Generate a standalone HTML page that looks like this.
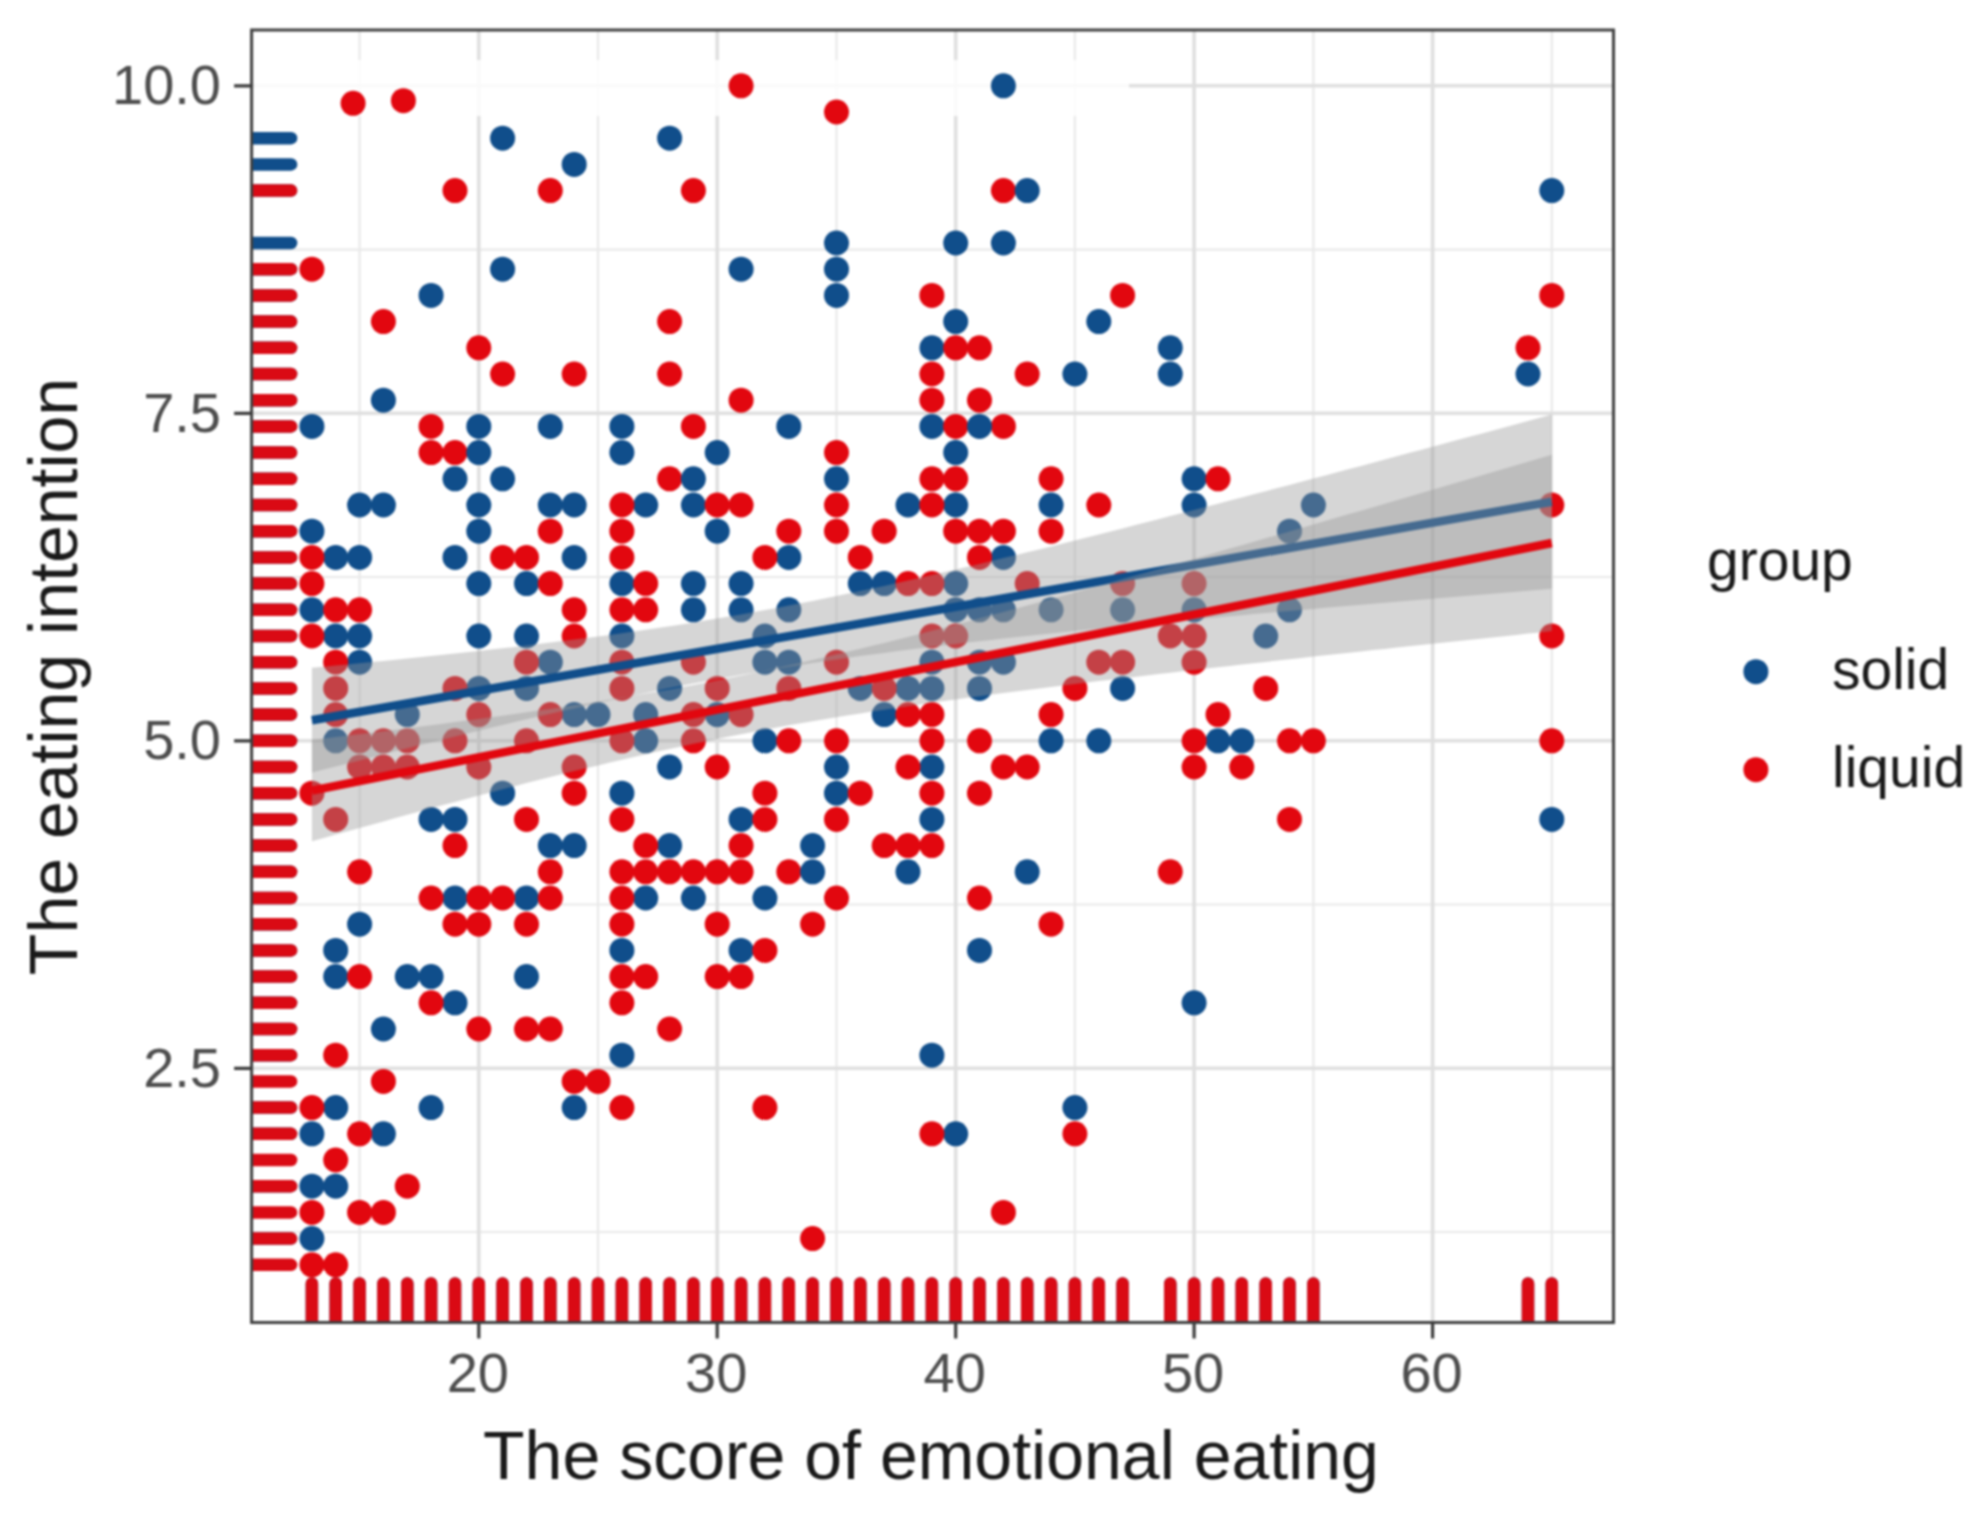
<!DOCTYPE html><html><head><meta charset="utf-8"><title>Scatter</title><style>html,body{margin:0;padding:0;background:#fff}svg{display:block;filter:blur(1.1px)}text{font-family:"Liberation Sans",Arial,sans-serif}</style></head><body>
<svg width="1979" height="1525" viewBox="0 0 1979 1525">
<rect width="1979" height="1525" fill="#fff"/>
<defs><clipPath id="cp"><rect x="251.6" y="30.0" width="1361.9" height="1292.5"/></clipPath></defs>
<g clip-path="url(#cp)">
<path d="M359.6 30.0V1322.5M598.0 30.0V1322.5M836.5 30.0V1322.5M1074.9 30.0V1322.5M1313.4 30.0V1322.5M1551.8 30.0V1322.5M251.6 1232.0H1613.5M251.6 904.5H1613.5M251.6 577.0H1613.5M251.6 249.6H1613.5" stroke="#e9e9e9" stroke-width="2.2" fill="none"/>
<path d="M478.8 30.0V1322.5M717.2 30.0V1322.5M955.7 30.0V1322.5M1194.1 30.0V1322.5M1432.6 30.0V1322.5M251.6 1068.3H1613.5M251.6 740.8H1613.5M251.6 413.3H1613.5M251.6 85.8H1613.5" stroke="#dfdfdf" stroke-width="3.6" fill="none"/>
<rect x="253.6" y="60" width="875.4" height="56" fill="#fff" opacity="0.85"/>
<path d="M251.6 1238.6H291.1M251.6 1186.2H291.1M251.6 1133.8H291.1M251.6 1107.6H291.1M251.6 1055.2H291.1M251.6 1029.0H291.1M251.6 1002.8H291.1M251.6 976.6H291.1M251.6 950.4H291.1M251.6 924.2H291.1M251.6 898.0H291.1M251.6 871.8H291.1M251.6 845.6H291.1M251.6 819.4H291.1M251.6 793.2H291.1M251.6 767.0H291.1M251.6 740.8H291.1M251.6 714.6H291.1M251.6 688.4H291.1M251.6 662.2H291.1M251.6 636.0H291.1M251.6 609.8H291.1M251.6 583.6H291.1M251.6 557.4H291.1M251.6 531.2H291.1M251.6 505.0H291.1M251.6 478.8H291.1M251.6 452.6H291.1M251.6 426.4H291.1M251.6 400.2H291.1M251.6 374.0H291.1M251.6 347.8H291.1M251.6 321.6H291.1M251.6 295.4H291.1M251.6 269.2H291.1M251.6 243.0H291.1M251.6 190.6H291.1M251.6 164.4H291.1M251.6 138.2H291.1" stroke="#104E8B" stroke-width="12.5" stroke-linecap="round" fill="none"/>
<path d="M251.6 1264.8H291.1M251.6 1238.6H291.1M251.6 1212.4H291.1M251.6 1186.2H291.1M251.6 1160.0H291.1M251.6 1133.8H291.1M251.6 1107.6H291.1M251.6 1081.4H291.1M251.6 1055.2H291.1M251.6 1029.0H291.1M251.6 1002.8H291.1M251.6 976.6H291.1M251.6 950.4H291.1M251.6 924.2H291.1M251.6 898.0H291.1M251.6 871.8H291.1M251.6 845.6H291.1M251.6 819.4H291.1M251.6 793.2H291.1M251.6 767.0H291.1M251.6 740.8H291.1M251.6 714.6H291.1M251.6 688.4H291.1M251.6 662.2H291.1M251.6 636.0H291.1M251.6 609.8H291.1M251.6 583.6H291.1M251.6 557.4H291.1M251.6 531.2H291.1M251.6 505.0H291.1M251.6 478.8H291.1M251.6 452.6H291.1M251.6 426.4H291.1M251.6 400.2H291.1M251.6 374.0H291.1M251.6 347.8H291.1M251.6 321.6H291.1M251.6 295.4H291.1M251.6 269.2H291.1M251.6 190.6H291.1" stroke="#DA0A14" stroke-width="12.5" stroke-linecap="round" fill="none"/>
<path d="M311.9 1322.5V1283.5M335.7 1322.5V1283.5M359.6 1322.5V1283.5M383.4 1322.5V1283.5M407.3 1322.5V1283.5M431.1 1322.5V1283.5M455.0 1322.5V1283.5M478.8 1322.5V1283.5M502.6 1322.5V1283.5M526.5 1322.5V1283.5M550.3 1322.5V1283.5M574.2 1322.5V1283.5M598.0 1322.5V1283.5M621.9 1322.5V1283.5M645.7 1322.5V1283.5M669.6 1322.5V1283.5M693.4 1322.5V1283.5M717.2 1322.5V1283.5M741.1 1322.5V1283.5M764.9 1322.5V1283.5M788.8 1322.5V1283.5M812.6 1322.5V1283.5M836.5 1322.5V1283.5M860.3 1322.5V1283.5M884.2 1322.5V1283.5M908.0 1322.5V1283.5M931.9 1322.5V1283.5M955.7 1322.5V1283.5M979.5 1322.5V1283.5M1003.4 1322.5V1283.5M1027.2 1322.5V1283.5M1051.1 1322.5V1283.5M1074.9 1322.5V1283.5M1098.8 1322.5V1283.5M1122.6 1322.5V1283.5M1170.3 1322.5V1283.5M1194.1 1322.5V1283.5M1218.0 1322.5V1283.5M1241.8 1322.5V1283.5M1265.7 1322.5V1283.5M1289.5 1322.5V1283.5M1313.4 1322.5V1283.5M1528.0 1322.5V1283.5M1551.8 1322.5V1283.5" stroke="#104E8B" stroke-width="12.5" stroke-linecap="round" fill="none"/>
<path d="M311.9 1322.5V1283.5M335.7 1322.5V1283.5M359.6 1322.5V1283.5M383.4 1322.5V1283.5M407.3 1322.5V1283.5M431.1 1322.5V1283.5M455.0 1322.5V1283.5M478.8 1322.5V1283.5M502.6 1322.5V1283.5M526.5 1322.5V1283.5M550.3 1322.5V1283.5M574.2 1322.5V1283.5M598.0 1322.5V1283.5M621.9 1322.5V1283.5M645.7 1322.5V1283.5M669.6 1322.5V1283.5M693.4 1322.5V1283.5M717.2 1322.5V1283.5M741.1 1322.5V1283.5M764.9 1322.5V1283.5M788.8 1322.5V1283.5M812.6 1322.5V1283.5M836.5 1322.5V1283.5M860.3 1322.5V1283.5M884.2 1322.5V1283.5M908.0 1322.5V1283.5M931.9 1322.5V1283.5M955.7 1322.5V1283.5M979.5 1322.5V1283.5M1003.4 1322.5V1283.5M1027.2 1322.5V1283.5M1051.1 1322.5V1283.5M1074.9 1322.5V1283.5M1098.8 1322.5V1283.5M1122.6 1322.5V1283.5M1170.3 1322.5V1283.5M1194.1 1322.5V1283.5M1218.0 1322.5V1283.5M1241.8 1322.5V1283.5M1265.7 1322.5V1283.5M1289.5 1322.5V1283.5M1313.4 1322.5V1283.5M1528.0 1322.5V1283.5M1551.8 1322.5V1283.5" stroke="#DA0A14" stroke-width="12.5" stroke-linecap="round" fill="none"/>
<g fill="#104E8B"><circle cx="1003.4" cy="85.8" r="12.5"/><circle cx="502.6" cy="138.2" r="12.5"/><circle cx="669.6" cy="138.2" r="12.5"/><circle cx="574.2" cy="164.4" r="12.5"/><circle cx="1551.8" cy="190.6" r="12.5"/><circle cx="836.5" cy="243.0" r="12.5"/><circle cx="955.7" cy="243.0" r="12.5"/><circle cx="1003.4" cy="243.0" r="12.5"/><circle cx="502.6" cy="269.2" r="12.5"/><circle cx="741.1" cy="269.2" r="12.5"/><circle cx="836.5" cy="269.2" r="12.5"/><circle cx="431.1" cy="295.4" r="12.5"/><circle cx="836.5" cy="295.4" r="12.5"/><circle cx="955.7" cy="321.6" r="12.5"/><circle cx="1098.8" cy="321.6" r="12.5"/><circle cx="931.9" cy="347.8" r="12.5"/><circle cx="1170.3" cy="347.8" r="12.5"/><circle cx="1074.9" cy="374.0" r="12.5"/><circle cx="1170.3" cy="374.0" r="12.5"/><circle cx="1528.0" cy="374.0" r="12.5"/><circle cx="383.4" cy="400.2" r="12.5"/><circle cx="311.9" cy="426.4" r="12.5"/><circle cx="478.8" cy="426.4" r="12.5"/><circle cx="550.3" cy="426.4" r="12.5"/><circle cx="621.9" cy="426.4" r="12.5"/><circle cx="788.8" cy="426.4" r="12.5"/><circle cx="931.9" cy="426.4" r="12.5"/><circle cx="621.9" cy="452.6" r="12.5"/><circle cx="717.2" cy="452.6" r="12.5"/><circle cx="955.7" cy="452.6" r="12.5"/><circle cx="455.0" cy="478.8" r="12.5"/><circle cx="502.6" cy="478.8" r="12.5"/><circle cx="836.5" cy="478.8" r="12.5"/><circle cx="1194.1" cy="478.8" r="12.5"/><circle cx="359.6" cy="505.0" r="12.5"/><circle cx="383.4" cy="505.0" r="12.5"/><circle cx="478.8" cy="505.0" r="12.5"/><circle cx="550.3" cy="505.0" r="12.5"/><circle cx="574.2" cy="505.0" r="12.5"/><circle cx="645.7" cy="505.0" r="12.5"/><circle cx="693.4" cy="505.0" r="12.5"/><circle cx="908.0" cy="505.0" r="12.5"/><circle cx="955.7" cy="505.0" r="12.5"/><circle cx="1051.1" cy="505.0" r="12.5"/><circle cx="1194.1" cy="505.0" r="12.5"/><circle cx="1313.4" cy="505.0" r="12.5"/><circle cx="311.9" cy="531.2" r="12.5"/><circle cx="478.8" cy="531.2" r="12.5"/><circle cx="717.2" cy="531.2" r="12.5"/><circle cx="1289.5" cy="531.2" r="12.5"/><circle cx="335.7" cy="557.4" r="12.5"/><circle cx="359.6" cy="557.4" r="12.5"/><circle cx="455.0" cy="557.4" r="12.5"/><circle cx="574.2" cy="557.4" r="12.5"/><circle cx="788.8" cy="557.4" r="12.5"/><circle cx="1003.4" cy="557.4" r="12.5"/><circle cx="478.8" cy="583.6" r="12.5"/><circle cx="526.5" cy="583.6" r="12.5"/><circle cx="621.9" cy="583.6" r="12.5"/><circle cx="693.4" cy="583.6" r="12.5"/><circle cx="741.1" cy="583.6" r="12.5"/><circle cx="860.3" cy="583.6" r="12.5"/><circle cx="884.2" cy="583.6" r="12.5"/><circle cx="955.7" cy="583.6" r="12.5"/><circle cx="311.9" cy="609.8" r="12.5"/><circle cx="693.4" cy="609.8" r="12.5"/><circle cx="741.1" cy="609.8" r="12.5"/><circle cx="788.8" cy="609.8" r="12.5"/><circle cx="955.7" cy="609.8" r="12.5"/><circle cx="979.5" cy="609.8" r="12.5"/><circle cx="1003.4" cy="609.8" r="12.5"/><circle cx="1051.1" cy="609.8" r="12.5"/><circle cx="1122.6" cy="609.8" r="12.5"/><circle cx="1194.1" cy="609.8" r="12.5"/><circle cx="1289.5" cy="609.8" r="12.5"/><circle cx="335.7" cy="636.0" r="12.5"/><circle cx="359.6" cy="636.0" r="12.5"/><circle cx="478.8" cy="636.0" r="12.5"/><circle cx="526.5" cy="636.0" r="12.5"/><circle cx="621.9" cy="636.0" r="12.5"/><circle cx="764.9" cy="636.0" r="12.5"/><circle cx="1265.7" cy="636.0" r="12.5"/><circle cx="359.6" cy="662.2" r="12.5"/><circle cx="550.3" cy="662.2" r="12.5"/><circle cx="764.9" cy="662.2" r="12.5"/><circle cx="788.8" cy="662.2" r="12.5"/><circle cx="931.9" cy="662.2" r="12.5"/><circle cx="979.5" cy="662.2" r="12.5"/><circle cx="1003.4" cy="662.2" r="12.5"/><circle cx="478.8" cy="688.4" r="12.5"/><circle cx="526.5" cy="688.4" r="12.5"/><circle cx="669.6" cy="688.4" r="12.5"/><circle cx="860.3" cy="688.4" r="12.5"/><circle cx="908.0" cy="688.4" r="12.5"/><circle cx="931.9" cy="688.4" r="12.5"/><circle cx="979.5" cy="688.4" r="12.5"/><circle cx="1122.6" cy="688.4" r="12.5"/><circle cx="407.3" cy="714.6" r="12.5"/><circle cx="574.2" cy="714.6" r="12.5"/><circle cx="598.0" cy="714.6" r="12.5"/><circle cx="645.7" cy="714.6" r="12.5"/><circle cx="717.2" cy="714.6" r="12.5"/><circle cx="884.2" cy="714.6" r="12.5"/><circle cx="335.7" cy="740.8" r="12.5"/><circle cx="645.7" cy="740.8" r="12.5"/><circle cx="764.9" cy="740.8" r="12.5"/><circle cx="1051.1" cy="740.8" r="12.5"/><circle cx="1098.8" cy="740.8" r="12.5"/><circle cx="1218.0" cy="740.8" r="12.5"/><circle cx="1241.8" cy="740.8" r="12.5"/><circle cx="669.6" cy="767.0" r="12.5"/><circle cx="836.5" cy="767.0" r="12.5"/><circle cx="931.9" cy="767.0" r="12.5"/><circle cx="502.6" cy="793.2" r="12.5"/><circle cx="621.9" cy="793.2" r="12.5"/><circle cx="836.5" cy="793.2" r="12.5"/><circle cx="431.1" cy="819.4" r="12.5"/><circle cx="455.0" cy="819.4" r="12.5"/><circle cx="741.1" cy="819.4" r="12.5"/><circle cx="931.9" cy="819.4" r="12.5"/><circle cx="1551.8" cy="819.4" r="12.5"/><circle cx="550.3" cy="845.6" r="12.5"/><circle cx="574.2" cy="845.6" r="12.5"/><circle cx="669.6" cy="845.6" r="12.5"/><circle cx="812.6" cy="845.6" r="12.5"/><circle cx="908.0" cy="871.8" r="12.5"/><circle cx="1027.2" cy="871.8" r="12.5"/><circle cx="455.0" cy="898.0" r="12.5"/><circle cx="526.5" cy="898.0" r="12.5"/><circle cx="645.7" cy="898.0" r="12.5"/><circle cx="693.4" cy="898.0" r="12.5"/><circle cx="764.9" cy="898.0" r="12.5"/><circle cx="359.6" cy="924.2" r="12.5"/><circle cx="335.7" cy="950.4" r="12.5"/><circle cx="621.9" cy="950.4" r="12.5"/><circle cx="741.1" cy="950.4" r="12.5"/><circle cx="979.5" cy="950.4" r="12.5"/><circle cx="335.7" cy="976.6" r="12.5"/><circle cx="407.3" cy="976.6" r="12.5"/><circle cx="431.1" cy="976.6" r="12.5"/><circle cx="526.5" cy="976.6" r="12.5"/><circle cx="455.0" cy="1002.8" r="12.5"/><circle cx="1194.1" cy="1002.8" r="12.5"/><circle cx="383.4" cy="1029.0" r="12.5"/><circle cx="621.9" cy="1055.2" r="12.5"/><circle cx="931.9" cy="1055.2" r="12.5"/><circle cx="335.7" cy="1107.6" r="12.5"/><circle cx="431.1" cy="1107.6" r="12.5"/><circle cx="574.2" cy="1107.6" r="12.5"/><circle cx="1074.9" cy="1107.6" r="12.5"/><circle cx="311.9" cy="1133.8" r="12.5"/><circle cx="383.4" cy="1133.8" r="12.5"/><circle cx="955.7" cy="1133.8" r="12.5"/><circle cx="311.9" cy="1186.2" r="12.5"/><circle cx="335.7" cy="1186.2" r="12.5"/><circle cx="311.9" cy="1238.6" r="12.5"/></g>
<g fill="#E2070F"><circle cx="741.1" cy="85.8" r="12.5"/><circle cx="836.5" cy="112.0" r="12.5"/><circle cx="455.0" cy="190.6" r="12.5"/><circle cx="550.3" cy="190.6" r="12.5"/><circle cx="693.4" cy="190.6" r="12.5"/><circle cx="1003.4" cy="190.6" r="12.5"/><circle cx="311.9" cy="269.2" r="12.5"/><circle cx="931.9" cy="295.4" r="12.5"/><circle cx="1122.6" cy="295.4" r="12.5"/><circle cx="1551.8" cy="295.4" r="12.5"/><circle cx="383.4" cy="321.6" r="12.5"/><circle cx="669.6" cy="321.6" r="12.5"/><circle cx="478.8" cy="347.8" r="12.5"/><circle cx="955.7" cy="347.8" r="12.5"/><circle cx="979.5" cy="347.8" r="12.5"/><circle cx="1528.0" cy="347.8" r="12.5"/><circle cx="502.6" cy="374.0" r="12.5"/><circle cx="574.2" cy="374.0" r="12.5"/><circle cx="669.6" cy="374.0" r="12.5"/><circle cx="931.9" cy="374.0" r="12.5"/><circle cx="1027.2" cy="374.0" r="12.5"/><circle cx="741.1" cy="400.2" r="12.5"/><circle cx="931.9" cy="400.2" r="12.5"/><circle cx="979.5" cy="400.2" r="12.5"/><circle cx="431.1" cy="426.4" r="12.5"/><circle cx="693.4" cy="426.4" r="12.5"/><circle cx="955.7" cy="426.4" r="12.5"/><circle cx="1003.4" cy="426.4" r="12.5"/><circle cx="431.1" cy="452.6" r="12.5"/><circle cx="455.0" cy="452.6" r="12.5"/><circle cx="836.5" cy="452.6" r="12.5"/><circle cx="669.6" cy="478.8" r="12.5"/><circle cx="931.9" cy="478.8" r="12.5"/><circle cx="955.7" cy="478.8" r="12.5"/><circle cx="1051.1" cy="478.8" r="12.5"/><circle cx="1218.0" cy="478.8" r="12.5"/><circle cx="621.9" cy="505.0" r="12.5"/><circle cx="717.2" cy="505.0" r="12.5"/><circle cx="741.1" cy="505.0" r="12.5"/><circle cx="836.5" cy="505.0" r="12.5"/><circle cx="931.9" cy="505.0" r="12.5"/><circle cx="1098.8" cy="505.0" r="12.5"/><circle cx="1551.8" cy="505.0" r="12.5"/><circle cx="550.3" cy="531.2" r="12.5"/><circle cx="621.9" cy="531.2" r="12.5"/><circle cx="788.8" cy="531.2" r="12.5"/><circle cx="836.5" cy="531.2" r="12.5"/><circle cx="884.2" cy="531.2" r="12.5"/><circle cx="955.7" cy="531.2" r="12.5"/><circle cx="979.5" cy="531.2" r="12.5"/><circle cx="1003.4" cy="531.2" r="12.5"/><circle cx="1051.1" cy="531.2" r="12.5"/><circle cx="311.9" cy="557.4" r="12.5"/><circle cx="502.6" cy="557.4" r="12.5"/><circle cx="526.5" cy="557.4" r="12.5"/><circle cx="621.9" cy="557.4" r="12.5"/><circle cx="764.9" cy="557.4" r="12.5"/><circle cx="860.3" cy="557.4" r="12.5"/><circle cx="979.5" cy="557.4" r="12.5"/><circle cx="311.9" cy="583.6" r="12.5"/><circle cx="550.3" cy="583.6" r="12.5"/><circle cx="645.7" cy="583.6" r="12.5"/><circle cx="908.0" cy="583.6" r="12.5"/><circle cx="931.9" cy="583.6" r="12.5"/><circle cx="1027.2" cy="583.6" r="12.5"/><circle cx="1122.6" cy="583.6" r="12.5"/><circle cx="1194.1" cy="583.6" r="12.5"/><circle cx="335.7" cy="609.8" r="12.5"/><circle cx="359.6" cy="609.8" r="12.5"/><circle cx="574.2" cy="609.8" r="12.5"/><circle cx="621.9" cy="609.8" r="12.5"/><circle cx="645.7" cy="609.8" r="12.5"/><circle cx="311.9" cy="636.0" r="12.5"/><circle cx="574.2" cy="636.0" r="12.5"/><circle cx="931.9" cy="636.0" r="12.5"/><circle cx="955.7" cy="636.0" r="12.5"/><circle cx="1170.3" cy="636.0" r="12.5"/><circle cx="1194.1" cy="636.0" r="12.5"/><circle cx="1551.8" cy="636.0" r="12.5"/><circle cx="335.7" cy="662.2" r="12.5"/><circle cx="526.5" cy="662.2" r="12.5"/><circle cx="621.9" cy="662.2" r="12.5"/><circle cx="693.4" cy="662.2" r="12.5"/><circle cx="836.5" cy="662.2" r="12.5"/><circle cx="1098.8" cy="662.2" r="12.5"/><circle cx="1122.6" cy="662.2" r="12.5"/><circle cx="1194.1" cy="662.2" r="12.5"/><circle cx="335.7" cy="688.4" r="12.5"/><circle cx="455.0" cy="688.4" r="12.5"/><circle cx="621.9" cy="688.4" r="12.5"/><circle cx="717.2" cy="688.4" r="12.5"/><circle cx="788.8" cy="688.4" r="12.5"/><circle cx="884.2" cy="688.4" r="12.5"/><circle cx="1074.9" cy="688.4" r="12.5"/><circle cx="1265.7" cy="688.4" r="12.5"/><circle cx="335.7" cy="714.6" r="12.5"/><circle cx="478.8" cy="714.6" r="12.5"/><circle cx="550.3" cy="714.6" r="12.5"/><circle cx="693.4" cy="714.6" r="12.5"/><circle cx="741.1" cy="714.6" r="12.5"/><circle cx="908.0" cy="714.6" r="12.5"/><circle cx="931.9" cy="714.6" r="12.5"/><circle cx="1051.1" cy="714.6" r="12.5"/><circle cx="1218.0" cy="714.6" r="12.5"/><circle cx="359.6" cy="740.8" r="12.5"/><circle cx="383.4" cy="740.8" r="12.5"/><circle cx="407.3" cy="740.8" r="12.5"/><circle cx="455.0" cy="740.8" r="12.5"/><circle cx="526.5" cy="740.8" r="12.5"/><circle cx="621.9" cy="740.8" r="12.5"/><circle cx="693.4" cy="740.8" r="12.5"/><circle cx="788.8" cy="740.8" r="12.5"/><circle cx="836.5" cy="740.8" r="12.5"/><circle cx="931.9" cy="740.8" r="12.5"/><circle cx="979.5" cy="740.8" r="12.5"/><circle cx="1194.1" cy="740.8" r="12.5"/><circle cx="1289.5" cy="740.8" r="12.5"/><circle cx="1313.4" cy="740.8" r="12.5"/><circle cx="1551.8" cy="740.8" r="12.5"/><circle cx="359.6" cy="767.0" r="12.5"/><circle cx="383.4" cy="767.0" r="12.5"/><circle cx="407.3" cy="767.0" r="12.5"/><circle cx="478.8" cy="767.0" r="12.5"/><circle cx="574.2" cy="767.0" r="12.5"/><circle cx="717.2" cy="767.0" r="12.5"/><circle cx="908.0" cy="767.0" r="12.5"/><circle cx="1003.4" cy="767.0" r="12.5"/><circle cx="1027.2" cy="767.0" r="12.5"/><circle cx="1194.1" cy="767.0" r="12.5"/><circle cx="1241.8" cy="767.0" r="12.5"/><circle cx="311.9" cy="793.2" r="12.5"/><circle cx="574.2" cy="793.2" r="12.5"/><circle cx="764.9" cy="793.2" r="12.5"/><circle cx="860.3" cy="793.2" r="12.5"/><circle cx="931.9" cy="793.2" r="12.5"/><circle cx="979.5" cy="793.2" r="12.5"/><circle cx="335.7" cy="819.4" r="12.5"/><circle cx="526.5" cy="819.4" r="12.5"/><circle cx="621.9" cy="819.4" r="12.5"/><circle cx="764.9" cy="819.4" r="12.5"/><circle cx="836.5" cy="819.4" r="12.5"/><circle cx="1289.5" cy="819.4" r="12.5"/><circle cx="455.0" cy="845.6" r="12.5"/><circle cx="645.7" cy="845.6" r="12.5"/><circle cx="741.1" cy="845.6" r="12.5"/><circle cx="884.2" cy="845.6" r="12.5"/><circle cx="908.0" cy="845.6" r="12.5"/><circle cx="931.9" cy="845.6" r="12.5"/><circle cx="359.6" cy="871.8" r="12.5"/><circle cx="550.3" cy="871.8" r="12.5"/><circle cx="621.9" cy="871.8" r="12.5"/><circle cx="645.7" cy="871.8" r="12.5"/><circle cx="669.6" cy="871.8" r="12.5"/><circle cx="693.4" cy="871.8" r="12.5"/><circle cx="717.2" cy="871.8" r="12.5"/><circle cx="741.1" cy="871.8" r="12.5"/><circle cx="788.8" cy="871.8" r="12.5"/><circle cx="1170.3" cy="871.8" r="12.5"/><circle cx="431.1" cy="898.0" r="12.5"/><circle cx="478.8" cy="898.0" r="12.5"/><circle cx="502.6" cy="898.0" r="12.5"/><circle cx="550.3" cy="898.0" r="12.5"/><circle cx="621.9" cy="898.0" r="12.5"/><circle cx="836.5" cy="898.0" r="12.5"/><circle cx="979.5" cy="898.0" r="12.5"/><circle cx="455.0" cy="924.2" r="12.5"/><circle cx="478.8" cy="924.2" r="12.5"/><circle cx="526.5" cy="924.2" r="12.5"/><circle cx="621.9" cy="924.2" r="12.5"/><circle cx="717.2" cy="924.2" r="12.5"/><circle cx="812.6" cy="924.2" r="12.5"/><circle cx="1051.1" cy="924.2" r="12.5"/><circle cx="764.9" cy="950.4" r="12.5"/><circle cx="359.6" cy="976.6" r="12.5"/><circle cx="621.9" cy="976.6" r="12.5"/><circle cx="645.7" cy="976.6" r="12.5"/><circle cx="717.2" cy="976.6" r="12.5"/><circle cx="741.1" cy="976.6" r="12.5"/><circle cx="431.1" cy="1002.8" r="12.5"/><circle cx="621.9" cy="1002.8" r="12.5"/><circle cx="478.8" cy="1029.0" r="12.5"/><circle cx="526.5" cy="1029.0" r="12.5"/><circle cx="550.3" cy="1029.0" r="12.5"/><circle cx="669.6" cy="1029.0" r="12.5"/><circle cx="335.7" cy="1055.2" r="12.5"/><circle cx="383.4" cy="1081.4" r="12.5"/><circle cx="574.2" cy="1081.4" r="12.5"/><circle cx="598.0" cy="1081.4" r="12.5"/><circle cx="311.9" cy="1107.6" r="12.5"/><circle cx="621.9" cy="1107.6" r="12.5"/><circle cx="764.9" cy="1107.6" r="12.5"/><circle cx="359.6" cy="1133.8" r="12.5"/><circle cx="931.9" cy="1133.8" r="12.5"/><circle cx="1074.9" cy="1133.8" r="12.5"/><circle cx="335.7" cy="1160.0" r="12.5"/><circle cx="407.3" cy="1186.2" r="12.5"/><circle cx="311.9" cy="1212.4" r="12.5"/><circle cx="359.6" cy="1212.4" r="12.5"/><circle cx="383.4" cy="1212.4" r="12.5"/><circle cx="1003.4" cy="1212.4" r="12.5"/><circle cx="812.6" cy="1238.6" r="12.5"/><circle cx="311.9" cy="1264.8" r="12.5"/><circle cx="335.7" cy="1264.8" r="12.5"/><circle cx="353.1" cy="103.3" r="12.5"/><circle cx="403.4" cy="100.7" r="12.5"/></g>
<g fill="#104E8B"><circle cx="1027.2" cy="190.6" r="12.5"/><circle cx="979.5" cy="426.4" r="12.5"/><circle cx="478.8" cy="452.6" r="12.5"/><circle cx="693.4" cy="478.8" r="12.5"/><circle cx="812.6" cy="871.8" r="12.5"/></g>
<path d="M311.9 667.8L323.8 666.7L335.7 665.6L347.7 664.4L359.6 663.3L371.5 662.1L383.4 660.9L395.3 659.7L407.3 658.5L419.2 657.3L431.1 656.1L443.0 654.8L455.0 653.5L466.9 652.2L478.8 650.9L490.7 649.6L502.6 648.3L514.6 646.9L526.5 645.5L538.4 644.1L550.3 642.6L562.3 641.1L574.2 639.6L586.1 638.1L598.0 636.5L609.9 634.9L621.9 633.2L633.8 631.6L645.7 629.8L657.6 628.1L669.6 626.3L681.5 624.4L693.4 622.5L705.3 620.6L717.2 618.6L729.2 616.5L741.1 614.4L753.0 612.3L764.9 610.1L776.9 607.9L788.8 605.6L800.7 603.3L812.6 600.9L824.6 598.5L836.5 596.1L848.4 593.6L860.3 591.0L872.2 588.5L884.2 585.9L896.1 583.2L908.0 580.5L919.9 577.8L931.9 575.1L943.8 572.3L955.7 569.5L967.6 566.7L979.5 563.9L991.5 561.0L1003.4 558.1L1015.3 555.2L1027.2 552.3L1039.2 549.4L1051.1 546.4L1063.0 543.4L1074.9 540.5L1086.8 537.5L1098.8 534.4L1110.7 531.4L1122.6 528.4L1134.5 525.3L1146.5 522.3L1158.4 519.2L1170.3 516.1L1182.2 513.0L1194.1 509.9L1206.1 506.8L1218.0 503.7L1229.9 500.6L1241.8 497.5L1253.8 494.3L1265.7 491.2L1277.6 488.0L1289.5 484.9L1301.5 481.7L1313.4 478.6L1325.3 475.4L1337.2 472.2L1349.1 469.1L1361.1 465.9L1373.0 462.7L1384.9 459.5L1396.8 456.3L1408.8 453.1L1420.7 449.9L1432.6 446.7L1444.5 443.5L1456.4 440.3L1468.4 437.1L1480.3 433.9L1492.2 430.7L1504.1 427.5L1516.1 424.3L1528.0 421.1L1539.9 417.8L1551.8 414.6L1551.8 588.8L1539.9 589.8L1528.0 590.8L1516.1 591.7L1504.1 592.7L1492.2 593.7L1480.3 594.7L1468.4 595.7L1456.4 596.7L1444.5 597.7L1432.6 598.7L1420.7 599.7L1408.8 600.7L1396.8 601.7L1384.9 602.7L1373.0 603.7L1361.1 604.8L1349.1 605.8L1337.2 606.8L1325.3 607.8L1313.4 608.9L1301.5 609.9L1289.5 611.0L1277.6 612.0L1265.7 613.1L1253.8 614.1L1241.8 615.2L1229.9 616.3L1218.0 617.4L1206.1 618.5L1194.1 619.6L1182.2 620.7L1170.3 621.8L1158.4 622.9L1146.5 624.0L1134.5 625.2L1122.6 626.3L1110.7 627.5L1098.8 628.7L1086.8 629.8L1074.9 631.0L1063.0 632.3L1051.1 633.5L1039.2 634.7L1027.2 636.0L1015.3 637.3L1003.4 638.6L991.5 639.9L979.5 641.2L967.6 642.6L955.7 644.0L943.8 645.4L931.9 646.8L919.9 648.3L908.0 649.8L896.1 651.3L884.2 652.9L872.2 654.5L860.3 656.1L848.4 657.8L836.5 659.5L824.6 661.3L812.6 663.0L800.7 664.9L788.8 666.8L776.9 668.7L764.9 670.7L753.0 672.7L741.1 674.7L729.2 676.9L717.2 679.0L705.3 681.2L693.4 683.5L681.5 685.8L669.6 688.1L657.6 690.5L645.7 693.0L633.8 695.4L621.9 698.0L609.9 700.5L598.0 703.1L586.1 705.7L574.2 708.4L562.3 711.1L550.3 713.8L538.4 716.5L526.5 719.3L514.6 722.1L502.6 725.0L490.7 727.8L478.8 730.7L466.9 733.6L455.0 736.5L443.0 739.4L431.1 742.4L419.2 745.3L407.3 748.3L395.3 751.3L383.4 754.3L371.5 757.4L359.6 760.4L347.7 763.4L335.7 766.5L323.8 769.6L311.9 772.6Z" fill="#999" fill-opacity="0.4"/>
<path d="M311.9 720.2L1551.8 501.7" stroke="#104E8B" stroke-width="8.5" fill="none"/>
<path d="M311.9 739.8L323.8 738.4L335.7 737.0L347.7 735.6L359.6 734.2L371.5 732.7L383.4 731.2L395.3 729.8L407.3 728.3L419.2 726.8L431.1 725.2L443.0 723.7L455.0 722.1L466.9 720.6L478.8 719.0L490.7 717.3L502.6 715.7L514.6 714.0L526.5 712.3L538.4 710.6L550.3 708.9L562.3 707.1L574.2 705.3L586.1 703.4L598.0 701.5L609.9 699.6L621.9 697.6L633.8 695.6L645.7 693.6L657.6 691.5L669.6 689.4L681.5 687.2L693.4 684.9L705.3 682.7L717.2 680.3L729.2 678.0L741.1 675.5L753.0 673.1L764.9 670.5L776.9 668.0L788.8 665.3L800.7 662.7L812.6 660.0L824.6 657.2L836.5 654.4L848.4 651.6L860.3 648.7L872.2 645.8L884.2 642.9L896.1 639.9L908.0 636.9L919.9 633.9L931.9 630.8L943.8 627.7L955.7 624.6L967.6 621.5L979.5 618.3L991.5 615.1L1003.4 611.9L1015.3 608.7L1027.2 605.5L1039.2 602.2L1051.1 599.0L1063.0 595.7L1074.9 592.4L1086.8 589.1L1098.8 585.7L1110.7 582.4L1122.6 579.1L1134.5 575.7L1146.5 572.4L1158.4 569.0L1170.3 565.6L1182.2 562.2L1194.1 558.8L1206.1 555.4L1218.0 552.0L1229.9 548.6L1241.8 545.2L1253.8 541.7L1265.7 538.3L1277.6 534.9L1289.5 531.4L1301.5 528.0L1313.4 524.5L1325.3 521.1L1337.2 517.6L1349.1 514.1L1361.1 510.7L1373.0 507.2L1384.9 503.7L1396.8 500.3L1408.8 496.8L1420.7 493.3L1432.6 489.8L1444.5 486.3L1456.4 482.8L1468.4 479.3L1480.3 475.8L1492.2 472.3L1504.1 468.8L1516.1 465.3L1528.0 461.8L1539.9 458.3L1551.8 454.8L1551.8 631.1L1539.9 632.4L1528.0 633.6L1516.1 634.9L1504.1 636.2L1492.2 637.4L1480.3 638.7L1468.4 639.9L1456.4 641.2L1444.5 642.5L1432.6 643.7L1420.7 645.0L1408.8 646.3L1396.8 647.6L1384.9 648.9L1373.0 650.1L1361.1 651.4L1349.1 652.7L1337.2 654.0L1325.3 655.3L1313.4 656.6L1301.5 657.9L1289.5 659.3L1277.6 660.6L1265.7 661.9L1253.8 663.2L1241.8 664.6L1229.9 665.9L1218.0 667.3L1206.1 668.6L1194.1 670.0L1182.2 671.3L1170.3 672.7L1158.4 674.1L1146.5 675.5L1134.5 676.9L1122.6 678.3L1110.7 679.7L1098.8 681.1L1086.8 682.6L1074.9 684.0L1063.0 685.5L1051.1 687.0L1039.2 688.5L1027.2 690.0L1015.3 691.5L1003.4 693.0L991.5 694.6L979.5 696.2L967.6 697.8L955.7 699.4L943.8 701.1L931.9 702.7L919.9 704.4L908.0 706.2L896.1 707.9L884.2 709.7L872.2 711.5L860.3 713.4L848.4 715.3L836.5 717.2L824.6 719.2L812.6 721.2L800.7 723.2L788.8 725.3L776.9 727.5L764.9 729.7L753.0 731.9L741.1 734.2L729.2 736.5L717.2 738.9L705.3 741.4L693.4 743.8L681.5 746.4L669.6 749.0L657.6 751.6L645.7 754.2L633.8 757.0L621.9 759.7L609.9 762.5L598.0 765.4L586.1 768.2L574.2 771.1L562.3 774.1L550.3 777.1L538.4 780.1L526.5 783.1L514.6 786.2L502.6 789.3L490.7 792.4L478.8 795.5L466.9 798.7L455.0 801.9L443.0 805.1L431.1 808.3L419.2 811.5L407.3 814.8L395.3 818.1L383.4 821.4L371.5 824.7L359.6 828.0L347.7 831.3L335.7 834.6L323.8 838.0L311.9 841.3Z" fill="#999" fill-opacity="0.4"/>
<path d="M311.9 790.6L1551.8 543.0" stroke="#E2070F" stroke-width="8.5" fill="none"/>
</g>
<rect x="251.6" y="30.0" width="1361.9" height="1292.5" fill="none" stroke="#404040" stroke-width="3"/>
<path d="M234.1 1068.3H251.6M234.1 740.8H251.6M234.1 413.3H251.6M234.1 85.8H251.6M478.8 1322.5V1338.5M717.2 1322.5V1338.5M955.7 1322.5V1338.5M1194.1 1322.5V1338.5M1432.6 1322.5V1338.5" stroke="#3a3a3a" stroke-width="3.2" fill="none"/>
<g font-size="56" fill="#4d4d4d">
<text x="221" y="1086.5" text-anchor="end">2.5</text>
<text x="221" y="759.0" text-anchor="end">5.0</text>
<text x="221" y="431.5" text-anchor="end">7.5</text>
<text x="221" y="104.0" text-anchor="end">10.0</text>
<text x="477.8" y="1391.9" text-anchor="middle">20</text>
<text x="716.2" y="1391.9" text-anchor="middle">30</text>
<text x="954.7" y="1391.9" text-anchor="middle">40</text>
<text x="1193.1" y="1391.9" text-anchor="middle">50</text>
<text x="1431.6" y="1391.9" text-anchor="middle">60</text>
</g>
<g fill="#1a1a1a">
<text x="931" y="1478.8" font-size="68" text-anchor="middle">The score of emotional eating</text>
<text transform="translate(76.5,676.5) rotate(-90)" font-size="68" text-anchor="middle">The eating intention</text>
<text x="1707" y="580.3" font-size="57">group</text>
<text x="1832" y="689.3" font-size="57">solid</text>
<text x="1832" y="786.9" font-size="57">liquid</text>
</g>
<circle cx="1755.9" cy="671.7" r="12.5" fill="#104E8B"/><circle cx="1755.9" cy="769.7" r="12.5" fill="#E2070F"/>
</svg></body></html>
